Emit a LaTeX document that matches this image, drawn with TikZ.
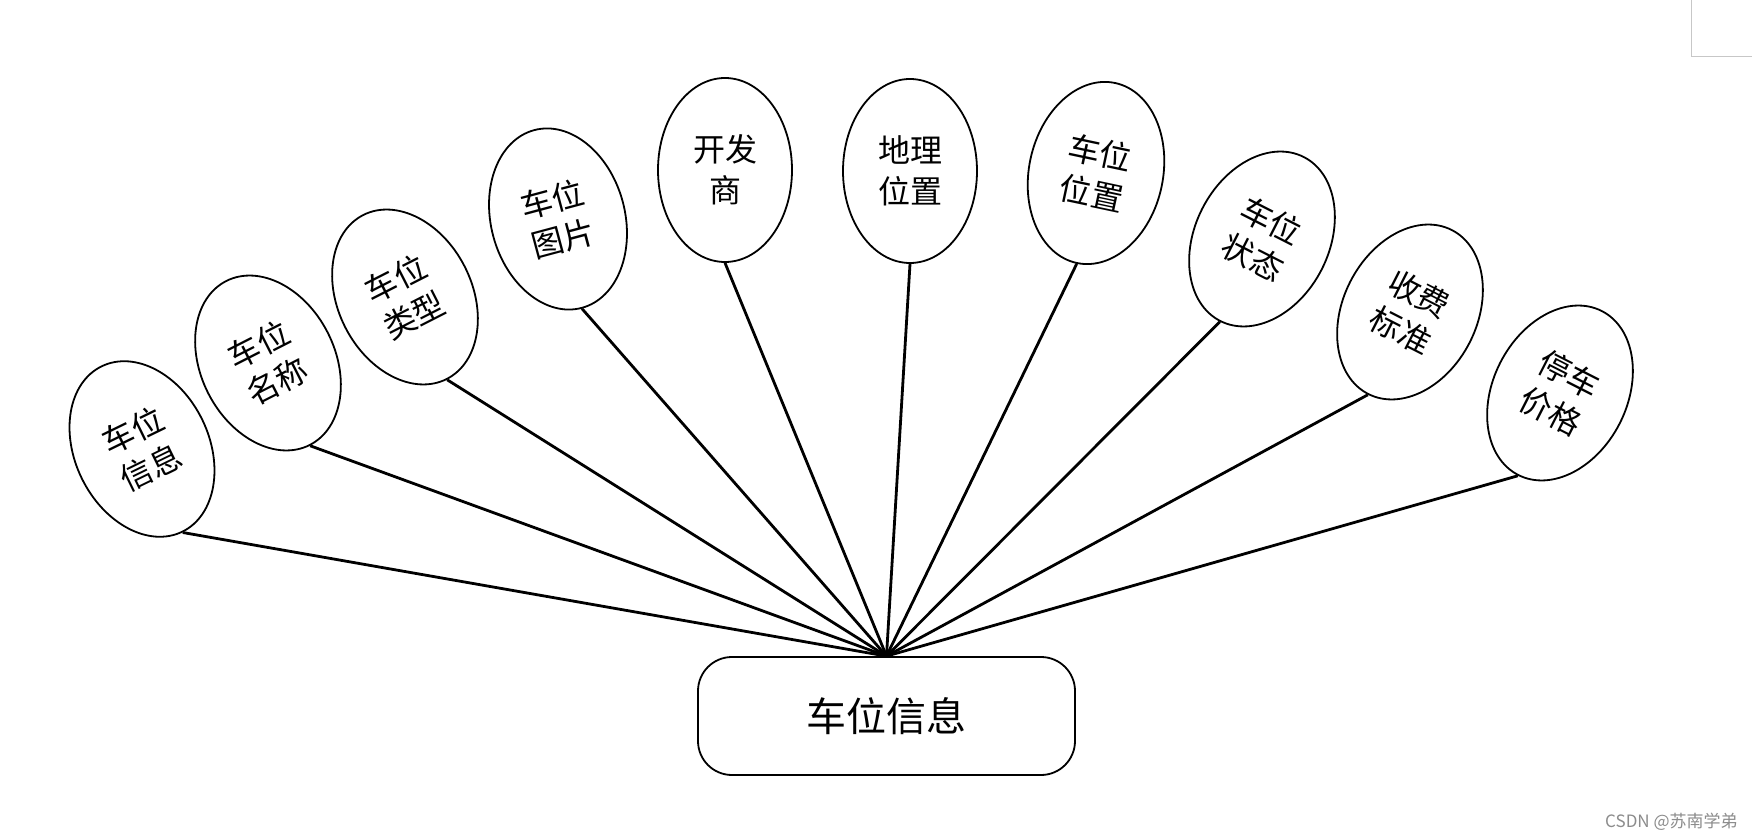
\documentclass[tikz,border=0pt]{standalone}
\usepackage{fontspec}
\newfontfamily\cjk{Noto Sans CJK SC}
\usetikzlibrary{shapes.geometric}
\begin{document}
\begin{tikzpicture}[x=0.5pt,y=-0.5pt]
\tikzset{
 attr/.style={ellipse, draw, line width=0.9pt, fill=white, minimum width=67pt, minimum height=92pt, inner sep=0pt, align=center, font=\cjk\fontsize{16pt}{20.5pt}\selectfont},
 ent/.style={rectangle, rounded corners=17pt, draw, line width=0.9pt, fill=white, minimum width=188.5pt, minimum height=59pt, inner sep=0pt, font=\cjk\fontsize{20pt}{24pt}\selectfont},
 link/.style={line width=1.4pt},
 wmark/.style={font=\cjk\fontsize{8.5pt}{10pt}\selectfont, text=black!45, inner sep=0pt, anchor=east}
}
\useasboundingbox (0,0) rectangle (1752,839);
\fill[white] (0,0) rectangle (1752,839);
\draw[black!22, line width=0.5pt] (1691,0) -- (1691,57) -- (1752,57);

\node[ent] (main) at (886.5,716) {车位信息};

\node[attr, rotate=26] (e1) at (142,449) {车位\\信息};
\node[attr, rotate=27] (e2) at (268,363) {车位\\名称};
\node[attr, rotate=27] (e3) at (405,297) {车位\\类型};
\node[attr, rotate=15] (e4) at (558,219) {车位\\图片};
\node[attr] (e5) at (725,170) {开发\\商};
\node[attr] (e6) at (910,171) {地理\\位置};
\node[attr, rotate=-12] (e7) at (1096,173) {车位\\位置};
\node[attr, rotate=-27] (e8) at (1262,239) {车位\\状态};
\node[attr, rotate=-27] (e9) at (1410,312) {收费\\标准};
\node[attr, rotate=-27] (e10) at (1560,393) {停车\\价格};

\foreach \e in {e1,e2,e3,e4,e5,e6,e7,e8,e9,e10}
  \draw[link] (main.north) -- (\e.south);

\node[wmark] (wm) at (1738,822) {CSDN @苏南学弟};
\end{tikzpicture}
\end{document}
